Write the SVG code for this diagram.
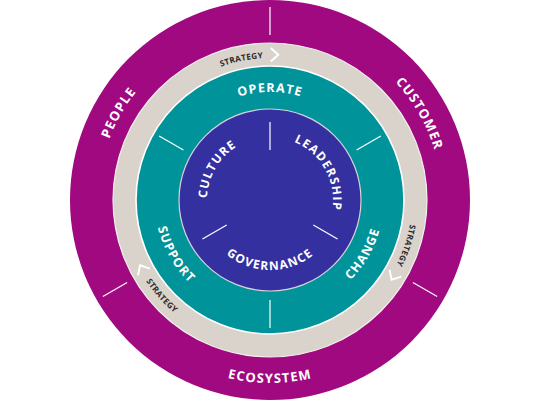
<svg xmlns="http://www.w3.org/2000/svg" xmlns:xlink="http://www.w3.org/1999/xlink" width="540" height="400" viewBox="0 0 540 400">
  <style>
    .lbl { font-family: "Open Sans", "Liberation Sans", sans-serif; font-weight: 700; fill: #ffffff; }
    .outer { font-size: 13px; letter-spacing: 1.1px; }
    .mid { font-size: 12.5px; letter-spacing: 1.1px; }
    .inner { font-size: 12px; letter-spacing: 1.2px; }
    .strat { font-family: "Open Sans", "Liberation Sans", sans-serif; font-weight: 700; font-size: 8.2px; letter-spacing: 0.3px; fill: #2b2b2b; }
    .div { stroke: #ffffff; stroke-width: 1.2; fill: none; }
    .chev { stroke: #ffffff; stroke-width: 2; fill: none; stroke-linejoin: miter; }
  </style>
  <defs>
    <path id="pPeople" d="M121.04,286 A172,172 0 0 1 270,28"/>
    <path id="pCustomer" d="M270,28 A172,172 0 0 1 418.96,286"/>
    <path id="pEco" d="M111.52,291.5 A183,183 0 0 0 428.48,291.5"/>
    <path id="pOperate" d="M176.47,146 A108,108 0 0 1 363.53,146"/>
    <path id="pSupport" d="M169.97,142.25 A115.5,115.5 0 0 0 270,315.5"/>
    <path id="pChange" d="M270,313.5 A113.5,113.5 0 0 0 368.29,143.25"/>
    <path id="pCulture" d="M215.44,231.5 A63,63 0 0 1 270,137"/>
    <path id="pLead" d="M271.1,137.01 A63,63 0 0 1 324,232.45"/>
    <path id="pGov" d="M209.38,235 A70,70 0 0 0 330.62,235"/>
    <path id="pStratTop" d="M158.87,111.6 A142,142 0 0 1 337.76,75.21"/>
    <path id="pStratRight" d="M402.12,147.96 A142,142 0 0 1 344.2,321.07"/>
    <path id="pStratLeft" d="M122.05,203.87 A148,148 0 0 0 248.12,346.37"/>
  </defs>

  <g id="rings">
    <circle cx="270" cy="200" r="200" fill="#A0097F"/>
    <circle cx="270" cy="200" r="157" fill="#D9D3CB" stroke="#F4F0EC" stroke-width="1.2"/>
    <circle cx="270" cy="200" r="134" fill="#00939A" stroke="#FFFFFF" stroke-width="1.6"/>
    <circle cx="270" cy="200" r="91" fill="#3530A0" stroke="#D8D2DA" stroke-width="1.2"/>
  </g>

  <g id="connectors">
    <g id="outer-dividers">
      <line class="div" x1="270" y1="7" x2="270" y2="35"/>
      <line class="div" x1="270" y1="7" x2="270" y2="35" transform="rotate(120 270 200)"/>
      <line class="div" x1="270" y1="7" x2="270" y2="35" transform="rotate(240 270 200)"/>
    </g>
    <g id="mid-dividers">
      <line class="div" x1="270" y1="300" x2="270" y2="328"/>
      <line class="div" x1="270" y1="300" x2="270" y2="328" transform="rotate(120 270 200)"/>
      <line class="div" x1="270" y1="300" x2="270" y2="328" transform="rotate(240 270 200)"/>
    </g>
    <g id="inner-dividers">
      <line class="div" x1="270" y1="122" x2="270" y2="150"/>
      <line class="div" x1="270" y1="122" x2="270" y2="150" transform="rotate(120 270 200)"/>
      <line class="div" x1="270" y1="122" x2="270" y2="150" transform="rotate(240 270 200)"/>
    </g>
    <g id="strategy-arrows">
      <path class="chev" d="M270.7,48 L278.3,54.8 L270.7,61.6"/>
      <path class="chev" d="M270.7,48 L278.3,54.8 L270.7,61.6" transform="rotate(120 270 200)"/>
      <path class="chev" d="M270.7,48 L278.3,54.8 L270.7,61.6" transform="rotate(240 270 200)"/>
    </g>
  </g>

  <g id="people"><text class="lbl outer"><textPath href="#pPeople" xlink:href="#pPeople" startOffset="50%" text-anchor="middle">PEOPLE</textPath></text></g>
  <g id="customer"><text class="lbl outer"><textPath href="#pCustomer" xlink:href="#pCustomer" startOffset="50%" text-anchor="middle">CUSTOMER</textPath></text></g>
  <g id="ecosystem"><text class="lbl outer"><textPath href="#pEco" xlink:href="#pEco" startOffset="50%" text-anchor="middle">ECOSYSTEM</textPath></text></g>

  <g id="strategy-top"><text class="strat"><textPath href="#pStratTop" xlink:href="#pStratTop" startOffset="50%" text-anchor="middle">STRATEGY</textPath></text></g>
  <g id="strategy-right"><text class="strat"><textPath href="#pStratRight" xlink:href="#pStratRight" startOffset="50%" text-anchor="middle">STRATEGY</textPath></text></g>
  <g id="strategy-left"><text class="strat"><textPath href="#pStratLeft" xlink:href="#pStratLeft" startOffset="50%" text-anchor="middle">STRATEGY</textPath></text></g>

  <g id="operate"><text class="lbl mid"><textPath href="#pOperate" xlink:href="#pOperate" startOffset="50%" text-anchor="middle">OPERATE</textPath></text></g>
  <g id="support"><text class="lbl mid"><textPath href="#pSupport" xlink:href="#pSupport" startOffset="50%" text-anchor="middle">SUPPORT</textPath></text></g>
  <g id="change"><text class="lbl mid"><textPath href="#pChange" xlink:href="#pChange" startOffset="50%" text-anchor="middle">CHANGE</textPath></text></g>

  <g id="culture"><text class="lbl inner"><textPath href="#pCulture" xlink:href="#pCulture" startOffset="50%" text-anchor="middle">CULTURE</textPath></text></g>
  <g id="leadership"><text class="lbl inner"><textPath href="#pLead" xlink:href="#pLead" startOffset="50%" text-anchor="middle">LEADERSHIP</textPath></text></g>
  <g id="governance"><text class="lbl inner"><textPath href="#pGov" xlink:href="#pGov" startOffset="50%" text-anchor="middle">GOVERNANCE</textPath></text></g>
</svg>
